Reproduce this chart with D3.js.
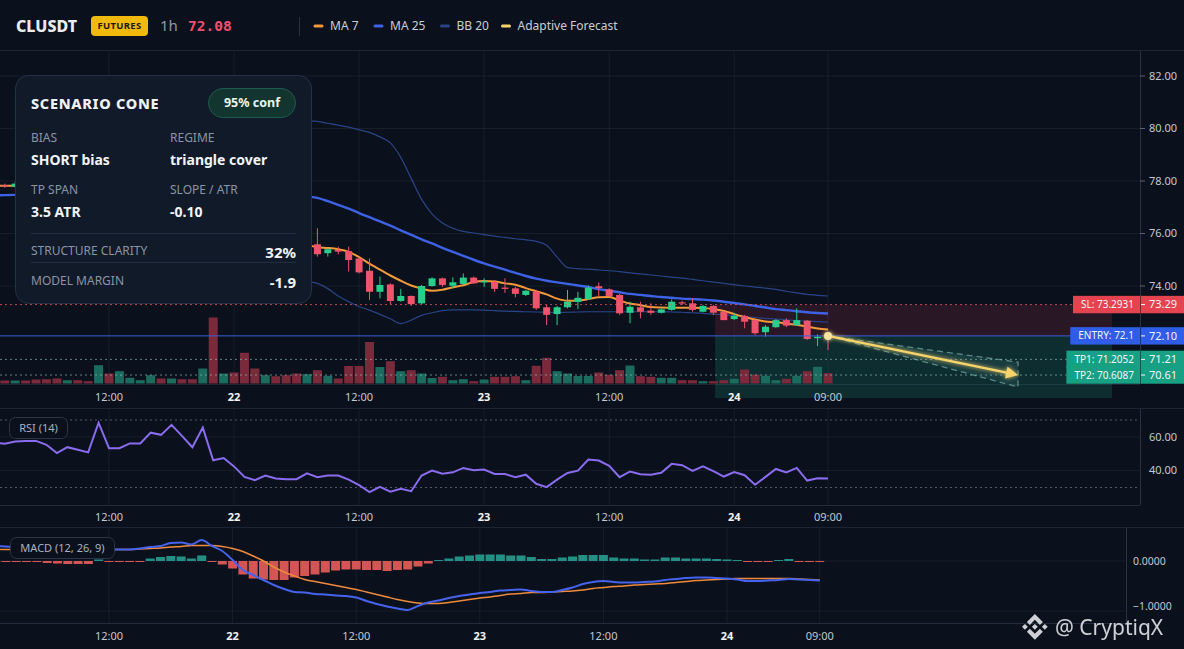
<!DOCTYPE html>
<html><head><meta charset="utf-8">
<script src="https://cdnjs.cloudflare.com/ajax/libs/d3/7.8.5/d3.min.js"></script>
<style>
html,body{margin:0;padding:0;background:#0b111c;overflow:hidden;}
svg{display:block;font-family:"Noto Sans","Open Sans",sans-serif;}
</style></head><body>
<svg id="chart" width="1184" height="649"></svg>
<script>
// ---------------- DATA (hourly candles, 21st 01:00 -> 24th 09:00) ----------------
const timeTickIdx    = [11, 23, 35, 47, 59, 71, 80];
const timeTickLabels = ["12:00", "22", "12:00", "23", "12:00", "24", "09:00"];
const timeTickIsDay  = [false, true, false, true, false, true, false];

const opens = [77.90,77.84,77.79,77.90,77.82,77.70,77.60,77.45,77.55,77.45,
  77.40,78.30,78.05,78.20,78.30,78.40,78.70,78.60,78.90,78.80,
  78.60,79.10,78.10,78.25,77.90,76.80,76.40,76.50,76.30,76.10,
  75.48,75.59,75.25,75.37,75.33,75.05,74.58,73.78,74.06,73.43,
  73.62,73.34,74.00,74.29,74.01,74.08,74.32,74.14,74.16,73.94,
  73.91,73.66,73.78,73.19,72.93,73.19,73.39,73.50,73.99,73.87,
  73.66,72.98,73.19,73.06,72.98,73.09,73.38,73.34,73.02,73.24,
  73.02,72.74,72.86,72.70,72.24,72.43,72.70,72.51,72.68,72.01,72.10];
const highs = [77.97,77.90,77.98,77.95,77.88,77.76,77.66,77.62,77.60,77.52,
  78.45,78.38,78.28,78.36,78.46,78.78,78.76,78.98,78.96,78.86,
  79.22,79.18,78.34,78.30,77.96,76.88,76.62,76.56,76.38,76.16,
  75.75,76.20,75.44,75.50,75.50,75.08,75.05,74.36,74.10,73.89,
  73.64,74.04,74.33,74.32,74.33,74.48,74.36,74.29,74.23,74.29,
  73.97,73.85,73.85,73.28,73.24,73.85,73.78,74.02,74.13,73.91,
  73.70,73.40,73.40,73.34,73.15,73.49,73.44,73.53,73.28,73.28,
  73.06,72.98,72.90,72.73,72.51,72.74,72.77,73.15,72.70,72.16,72.13];
const lows = [77.78,77.74,77.75,77.76,77.64,77.52,77.38,77.40,77.38,77.33,
  77.36,77.95,77.98,78.12,78.24,78.35,78.52,78.55,78.72,78.52,
  78.55,77.95,78.02,77.82,76.65,76.30,76.32,76.22,76.02,75.42,
  75.30,75.12,75.12,75.21,74.55,74.48,73.47,73.53,73.30,73.40,
  73.24,73.31,73.97,73.97,73.91,74.04,74.08,73.97,73.78,73.74,
  73.57,73.62,73.09,72.51,72.51,73.15,73.12,73.47,73.59,73.59,
  72.90,72.58,72.77,72.90,72.96,73.06,73.28,73.02,73.00,72.90,
  72.70,72.70,72.39,72.13,72.07,72.41,72.43,72.48,71.94,71.71,71.56];
const closes = [77.84,77.79,77.90,77.82,77.70,77.60,77.45,77.55,77.45,77.40,
  78.30,78.05,78.20,78.30,78.40,78.70,78.60,78.90,78.80,78.60,
  79.10,78.10,78.25,77.90,76.80,76.40,76.50,76.30,76.10,75.50,
  75.60,75.21,75.40,75.31,74.99,74.52,73.78,74.04,73.43,73.62,
  73.31,74.00,74.29,74.04,74.14,74.32,74.10,74.18,73.89,73.89,
  73.70,73.82,73.15,72.90,73.19,73.40,73.55,73.94,73.92,73.62,
  72.96,73.21,73.02,72.98,73.11,73.40,73.33,73.09,73.24,72.98,
  72.70,72.86,72.64,72.20,72.45,72.70,72.49,72.70,71.98,72.07,72.08];
// volume, thousands of contracts
const volumes = [20,30,30,30,40,43,50,33,33,23,
  183,100,123,57,33,83,50,50,43,43,
  150,660,100,110,307,150,83,73,83,100,
  93,133,77,50,175,175,415,165,223,123,
  133,100,55,67,33,43,23,40,67,67,
  73,33,177,257,123,100,75,75,110,87,
  133,180,73,67,57,57,33,33,23,23,
  33,47,140,90,77,33,47,77,123,167,103];

const ma7 = [77.83,77.82,77.82,77.80,77.78,77.74,77.69,77.65,77.60,77.55,
  77.64,77.71,77.80,77.91,78.02,78.18,78.35,78.45,78.56,78.62,
  78.74,78.70,78.65,78.50,78.20,77.85,77.45,77.05,76.65,76.20,
  75.60,75.48,75.45,75.40,75.30,75.10,74.85,74.62,74.40,74.20,
  74.02,73.90,73.82,73.86,73.95,74.03,74.15,74.19,74.17,74.10,
  74.05,73.92,73.80,73.68,73.52,73.44,73.45,73.50,73.57,73.58,
  73.45,73.33,73.27,73.20,73.18,73.17,73.17,73.17,73.16,73.12,
  73.05,72.93,72.82,72.72,72.65,72.62,72.57,72.52,72.45,72.38,72.34];
const ma25 = [77.45,77.46,77.47,77.48,77.49,77.50,77.51,77.52,77.53,77.54,
  77.58,77.62,77.66,77.70,77.74,77.78,77.82,77.86,77.90,77.93,
  77.96,77.95,77.93,77.88,77.80,77.72,77.65,77.58,77.52,77.46,
  77.41,77.36,77.23,77.09,76.95,76.78,76.62,76.46,76.30,76.12,
  75.95,75.78,75.62,75.45,75.30,75.15,75.00,74.86,74.74,74.62,
  74.50,74.38,74.28,74.20,74.14,74.08,74.02,73.96,73.88,73.82,
  73.76,73.70,73.66,73.62,73.58,73.55,73.52,73.50,73.48,73.45,
  73.40,73.35,73.30,73.24,73.18,73.12,73.08,73.04,73.00,72.97,72.95];
const bbUpper = [null,null,null,null,null,null,null,null,null,null,
  null,null,null,null,null,null,null,null,null,null,
  79.60,79.75,79.85,79.95,80.10,80.20,80.25,80.28,80.30,80.30,
  80.29,80.27,80.20,80.13,80.05,79.95,79.85,79.68,79.45,78.90,
  78.10,77.30,76.75,76.40,76.20,76.08,76.02,75.96,75.90,75.85,
  75.80,75.76,75.70,75.55,75.10,74.70,74.66,74.64,74.61,74.58,
  74.55,74.50,74.46,74.42,74.38,74.34,74.30,74.25,74.20,74.15,
  74.10,74.05,74.00,73.96,73.92,73.87,73.80,73.74,73.68,73.64,73.62];
const bbLower = [null,null,null,null,null,null,null,null,null,null,
  null,null,null,null,null,null,null,null,null,null,
  76.30,76.10,75.90,75.60,75.20,74.90,74.70,74.50,74.35,74.25,
  74.18,74.10,73.90,73.62,73.40,73.22,73.08,72.92,72.75,72.57,
  72.70,72.88,72.98,73.06,73.09,73.09,73.09,73.08,73.06,73.04,
  73.03,73.02,73.01,73.00,72.99,73.00,73.01,73.02,73.02,73.02,
  73.02,73.02,73.02,73.02,73.02,73.01,73.00,72.98,72.96,72.93,
  72.90,72.87,72.84,72.80,72.77,72.74,72.71,72.68,72.66,72.64,72.62];

const rsi = [56.6,56.0,57.2,57.6,57.6,55.3,50.4,53.9,52.4,50.8,
  68.4,53.3,53.3,56.1,56.1,62.5,61.2,67.1,60.6,53.9,
  65.5,46.1,47.5,42.5,36.3,34.3,37.1,35.3,34.9,34.9,
  38.4,36.1,37.1,37.1,34.7,31.4,27.3,30.4,27.5,29.2,
  27.8,37.1,40.0,38.2,39.0,41.6,40.2,40.6,38.0,38.0,
  36.1,37.6,32.2,30.2,34.7,38.6,40.0,46.6,46.0,42.8,
  36.1,39.5,37.9,37.5,38.7,44.0,43.2,39.9,42.6,39.7,
  36.5,39.1,37.3,31.6,36.3,41.0,38.9,41.6,34.1,35.5,35.3];

const macdLine = [0.30,0.29,0.28,0.26,0.25,0.25,0.25,0.24,0.23,0.23,
  0.23,0.23,0.23,0.23,0.25,0.28,0.30,0.36,0.37,0.33,
  0.42,0.30,0.20,0.02,-0.18,-0.28,-0.38,-0.48,-0.56,-0.62,
  -0.63,-0.66,-0.67,-0.69,-0.70,-0.73,-0.80,-0.86,-0.91,-0.95,
  -0.98,-0.90,-0.83,-0.79,-0.74,-0.70,-0.67,-0.64,-0.62,-0.59,
  -0.58,-0.57,-0.60,-0.62,-0.62,-0.58,-0.53,-0.46,-0.42,-0.40,
  -0.42,-0.43,-0.43,-0.42,-0.41,-0.38,-0.36,-0.34,-0.33,-0.33,
  -0.34,-0.35,-0.37,-0.40,-0.40,-0.39,-0.38,-0.36,-0.37,-0.38,-0.39];
const signalLine = [0.23,0.23,0.23,0.23,0.23,0.23,0.23,0.23,0.23,0.23,
  0.23,0.23,0.23,0.23,0.24,0.25,0.26,0.28,0.29,0.31,
  0.31,0.31,0.29,0.25,0.19,0.10,0.00,-0.12,-0.22,-0.30,
  -0.37,-0.41,-0.45,-0.49,-0.53,-0.57,-0.62,-0.67,-0.72,-0.77,
  -0.81,-0.84,-0.85,-0.85,-0.83,-0.80,-0.77,-0.74,-0.72,-0.69,
  -0.66,-0.65,-0.63,-0.63,-0.62,-0.61,-0.60,-0.58,-0.55,-0.53,
  -0.51,-0.50,-0.48,-0.47,-0.46,-0.45,-0.43,-0.41,-0.39,-0.38,
  -0.37,-0.36,-0.35,-0.35,-0.35,-0.35,-0.35,-0.35,-0.36,-0.37,-0.38];
const macdHist = [-0.01,-0.01,-0.01,-0.01,-0.02,-0.04,-0.05,-0.06,-0.06,-0.06,
  0.03,-0.005,-0.005,-0.005,-0.005,0.05,0.08,0.10,0.09,0.05,
  0.11,-0.005,-0.07,-0.15,-0.27,-0.35,-0.37,-0.38,-0.38,-0.33,
  -0.30,-0.27,-0.23,-0.19,-0.17,-0.17,-0.18,-0.18,-0.20,-0.18,
  -0.17,-0.11,-0.05,0.02,0.05,0.09,0.11,0.13,0.13,0.13,
  0.11,0.11,0.08,0.04,0.04,0.07,0.09,0.12,0.12,0.12,
  0.07,0.05,0.05,0.03,0.03,0.07,0.07,0.05,0.05,0.05,
  0.04,0.03,0.02,-0.02,-0.01,-0.005,0.02,0.04,-0.015,-0.015,-0.015];

const priceTicks = [82, 80, 78, 76, 74];
const rsiTicks = [60, 40];
const rsiBands = [70, 30];
const macdTicks = [0, -1];

const levelNames  = ["SL", "ENTRY", "TP1", "TP2"];
const levelPrices = [73.2931, 72.1, 71.2052, 70.6087];
const zoneIdx = [69.16, 107.26];      // trade box, candle-index units
const zoneFloor = 69.73;              // lower edge of profit box
const forecastIdx = [80, 98.24];
const forecastPrice = [72.10, 70.61];
const coneUpper = 71.10, coneLower = 70.15;

const panelRows = [["BIAS","SHORT bias","REGIME","triangle cover"],["TP SPAN","3.5 ATR","SLOPE / ATR","-0.10"]];
const panelStats = [["STRUCTURE CLARITY","32%"],["MODEL MARGIN","-1.9"]];
const legendItems = [["MA 7","#f29a3a"],["MA 25","#3d62e6"],["BB 20","#2a4385"],["Adaptive Forecast","#f7d56b"]];

// ---------------- RENDER ----------------
const C = {bg:'#0b111c', grid:'rgba(255,255,255,0.055)', line:'#1d2535', txt:'#c3c8d1',
  up:'#26cf8c', down:'#f0536c', volUp:'#1c6b5f', volDown:'#7a2a3b',
  ma7:'#f29a3a', ma25:'#3d62e6', bb:'#2a4385', rsi:'#8a6cf0', macd:'#4563ee', signal:'#ee8a3e',
  histUp:'#27a293', histDown:'#f0605c', fc:'#f7d56b'};
const levelColors = ['#e5434f', '#2f5de8', '#17a083', '#17a083'];

const svg = d3.select('#chart');
svg.append('rect').attr('width',1184).attr('height',649).attr('fill',C.bg);
const defs = svg.append('defs');
function clip(id,x,y,w,h){defs.append('clipPath').attr('id',id).append('rect').attr('x',x).attr('y',y).attr('width',w).attr('height',h);}
clip('cMain',0,51,1140,333); clip('cRsi',0,409,1140,96); clip('cMacd',0,528,1126,95);
const glow = defs.append('filter').attr('id','glow').attr('x','-50%').attr('y','-50%').attr('width','200%').attr('height','200%');
glow.append('feGaussianBlur').attr('stdDeviation',2.2).attr('result','b');
const gm = glow.append('feMerge'); gm.append('feMergeNode').attr('in','b'); gm.append('feMergeNode').attr('in','SourceGraphic');

const N = closes.length, idx = d3.range(N);
const xMain = d3.scaleLinear().domain([11,80]).range([109,828]);
const xMacd = d3.scaleLinear().domain([11,80]).range([109,819.7]);
const yP = d3.scaleLinear().domain([70,82]).range([391,76]);
const yV = d3.scaleLinear().domain([0,1000]).range([383.5,283.5]);
const yR = d3.scaleLinear().domain([30,70]).range([487.5,420]);
const yM = d3.scaleLinear().domain([-1,0]).range([611,561]);

// ---- header ----
const hd = svg.append('g');
hd.append('line').attr('x1',0).attr('x2',1184).attr('y1',50.5).attr('y2',50.5).attr('stroke',C.line);
hd.append('text').attr('x',16).attr('y',26).attr('dy','0.35em').attr('fill','#e9edf3').attr('font-size',16).attr('font-weight',800).text('CLUSDT');
hd.append('rect').attr('x',91).attr('y',16).attr('width',57).attr('height',20).attr('rx',4).attr('fill','#f0b90b');
hd.append('text').attr('x',119.5).attr('y',26).attr('dy','0.35em').attr('text-anchor','middle').attr('fill','#1c1a12').attr('font-size',9.5).attr('font-weight',700).attr('letter-spacing',0.3).text('FUTURES');
hd.append('text').attr('x',160).attr('y',26).attr('dy','0.35em').attr('fill','#8f98a8').attr('font-size',15).text('1h');
hd.append('text').attr('x',188).attr('y',26).attr('dy','0.35em').attr('fill','#f04e6e').attr('font-size',14.5).attr('font-weight',700).attr('font-family','"DejaVu Sans Mono",monospace').text(d3.format('.2f')(closes[N-1]));
hd.append('line').attr('x1',299.5).attr('x2',299.5).attr('y1',17).attr('y2',36).attr('stroke','#2a3242');
const legX = [313.5, 373.5, 440, 501];
legendItems.forEach((d,k)=>{
  hd.append('rect').attr('x',legX[k]).attr('y',24.5).attr('width',10).attr('height',3).attr('rx',1.5).attr('fill',d[1]);
  hd.append('text').attr('x',legX[k]+16.5).attr('y',26).attr('dy','0.35em').attr('fill','#c9cdd6').attr('font-size',12).text(d[0]);
});

// ---- main pane ----
const mg = svg.append('g');
priceTicks.forEach(p=>mg.append('line').attr('x1',0).attr('x2',1140).attr('y1',yP(p)).attr('y2',yP(p)).attr('stroke',C.grid));
timeTickIdx.forEach(i=>mg.append('line').attr('x1',xMain(i)).attr('x2',xMain(i)).attr('y1',51).attr('y2',384).attr('stroke',C.grid));
mg.append('line').attr('x1',0).attr('x2',1140).attr('y1',384.5).attr('y2',384.5).attr('stroke',C.line);
mg.append('line').attr('x1',1140.5).attr('x2',1140.5).attr('y1',51).attr('y2',384).attr('stroke','#2a3242');

// trade zones
mg.append('rect').attr('x',xMain(zoneIdx[0])).attr('width',xMain(zoneIdx[1])-xMain(zoneIdx[0]))
  .attr('y',yP(levelPrices[0])).attr('height',yP(levelPrices[1])-yP(levelPrices[0])).attr('fill','rgba(214,58,92,0.15)');
mg.append('rect').attr('x',xMain(zoneIdx[0])).attr('width',xMain(zoneIdx[1])-xMain(zoneIdx[0]))
  .attr('y',yP(levelPrices[1])).attr('height',yP(zoneFloor)-yP(levelPrices[1])).attr('fill','rgba(26,158,134,0.2)');

const pc = mg.append('g').attr('clip-path','url(#cMain)');
// volume
pc.selectAll('rect.v').data(idx).join('rect').attr('class','v')
  .attr('x',i=>xMain(i)-4.5).attr('width',9).attr('y',i=>yV(volumes[i])).attr('height',i=>yV(0)-yV(volumes[i]))
  .attr('fill',i=>closes[i]>=opens[i]?C.volUp:C.volDown);
// lines
const lineMain = arr => d3.line().defined(i=>arr[i]!=null).x(i=>xMain(i)).y(i=>yP(arr[i])).curve(d3.curveMonotoneX)(idx);
pc.append('path').attr('d',lineMain(bbUpper)).attr('fill','none').attr('stroke',C.bb).attr('stroke-width',1.2);
pc.append('path').attr('d',lineMain(bbLower)).attr('fill','none').attr('stroke',C.bb).attr('stroke-width',1.2);
pc.append('path').attr('d',lineMain(ma25)).attr('fill','none').attr('stroke',C.ma25).attr('stroke-width',2.4);
pc.append('path').attr('d',lineMain(ma7)).attr('fill','none').attr('stroke',C.ma7).attr('stroke-width',2);
// candles
const cg = pc.selectAll('g.c').data(idx).join('g').attr('class','c');
cg.append('line').attr('x1',i=>xMain(i)).attr('x2',i=>xMain(i)).attr('y1',i=>yP(highs[i])).attr('y2',i=>yP(lows[i]))
  .attr('stroke',i=>closes[i]>=opens[i]?C.up:C.down).attr('stroke-width',1);
cg.append('rect').attr('x',i=>xMain(i)-3.5).attr('width',7)
  .attr('y',i=>yP(Math.max(opens[i],closes[i])))
  .attr('height',i=>Math.max(1.2,Math.abs(yP(opens[i])-yP(closes[i]))))
  .attr('fill',i=>closes[i]>=opens[i]?C.up:C.down);

// level lines
const lvlStyle = [{c:'rgba(239,83,95,0.75)',d:'2,3'},{c:'#3a5fe0',d:null},{c:'rgba(160,205,195,0.6)',d:'2,3'},{c:'rgba(160,205,195,0.6)',d:'2,3'}];
levelPrices.forEach((p,k)=>{
  const l = mg.append('line').attr('x1',0).attr('x2',1140).attr('y1',yP(p)).attr('y2',yP(p)).attr('stroke',lvlStyle[k].c).attr('stroke-width',1);
  if(lvlStyle[k].d) l.attr('stroke-dasharray',lvlStyle[k].d);
});

// forecast cone + arrow
const fx0 = xMain(forecastIdx[0]), fy0 = yP(forecastPrice[0]);
const fx1 = xMain(forecastIdx[1]), fy1 = yP(forecastPrice[1]);
mg.append('path').attr('d',d3.line()([[fx0,fy0],[fx1,yP(coneUpper)],[fx1,yP(coneLower)]])+'Z')
  .attr('fill','rgba(140,200,190,0.10)').attr('stroke','rgba(150,200,195,0.55)').attr('stroke-width',1.3).attr('stroke-dasharray','6,4');
const ang = Math.atan2(fy1-fy0, fx1-fx0);
const fg = mg.append('g').attr('filter','url(#glow)');
fg.append('line').attr('x1',fx0).attr('y1',fy0).attr('x2',fx1-8*Math.cos(ang)).attr('y2',fy1-8*Math.sin(ang))
  .attr('stroke',C.fc).attr('stroke-width',2.4);
fg.append('path').attr('d','M0,0 L-12,-6 L-12,6 Z').attr('fill',C.fc)
  .attr('transform',`translate(${fx1},${fy1}) rotate(${ang*180/Math.PI})`);
fg.append('circle').attr('cx',fx0).attr('cy',fy0).attr('r',4).attr('fill','#f9e3a0');

// price axis
priceTicks.forEach(p=>{
  mg.append('line').attr('x1',1140).attr('x2',1145).attr('y1',yP(p)).attr('y2',yP(p)).attr('stroke','#59627a');
  mg.append('text').attr('x',1149).attr('y',yP(p)).attr('dy','0.35em').attr('fill',C.txt).attr('font-size',11).text(d3.format('.2f')(p));
});
// level labels
levelPrices.forEach((p,k)=>{
  const y = yP(p);
  const g = mg.append('g');
  const r = g.append('rect').attr('fill',levelColors[k]);
  const t = g.append('text').attr('x',1134).attr('y',y).attr('dy','0.35em').attr('text-anchor','end').attr('fill','#f4f6fa').attr('font-size',10)
    .text(levelNames[k]+': '+(+p.toFixed(4)));
  const w = t.node().getComputedTextLength();
  r.attr('x',1134-w-8).attr('y',y-8.7).attr('width',1184-(1134-w-8)).attr('height',17.4);
  g.append('line').attr('x1',1140.5).attr('x2',1140.5).attr('y1',y-8.7).attr('y2',y+8.7).attr('stroke','rgba(10,15,25,0.5)');
  g.append('line').attr('x1',1141).attr('x2',1145).attr('y1',y).attr('y2',y).attr('stroke','#f4f6fa');
  g.append('text').attr('x',1149).attr('y',y).attr('dy','0.35em').attr('fill','#f4f6fa').attr('font-size',11).text(d3.format('.2f')(p));
});
// time labels main
function timeLabels(g, xs, y){
  timeTickIdx.forEach((i,k)=>{
    g.append('text').attr('x',xs(i)).attr('y',y).attr('dy','0.35em').attr('text-anchor','middle')
      .attr('fill',timeTickIsDay[k]?'#f1f3f6':C.txt).attr('font-weight',timeTickIsDay[k]?700:400).attr('font-size',11)
      .text(timeTickLabels[k]);
  });
}
timeLabels(mg, xMain, 397);

// scenario panel
const pg = svg.append('g');
pg.append('rect').attr('x',15.5).attr('y',75.5).attr('width',296).attr('height',228).attr('rx',13)
  .attr('fill','#111a29').attr('stroke','#273145');
pg.append('text').attr('x',31).attr('y',104).attr('dy','0.35em').attr('fill','#eef1f5').attr('font-size',14.5).attr('font-weight',800).attr('letter-spacing',0.7).text('SCENARIO CONE');
pg.append('rect').attr('x',208.5).attr('y',88.5).attr('width',87).attr('height',29).attr('rx',14.5).attr('fill','#12352f').attr('stroke','#1f5b4f');
pg.append('text').attr('x',252).attr('y',103).attr('dy','0.35em').attr('text-anchor','middle').attr('fill','#e8f5ef').attr('font-size',12.5).attr('font-weight',700).text('95% conf');
const rowY = [[138,160],[190,212]];
panelRows.forEach((r,k)=>{
  pg.append('text').attr('x',31).attr('y',rowY[k][0]).attr('dy','0.35em').attr('fill','#8b94a6').attr('font-size',12).text(r[0]);
  pg.append('text').attr('x',31).attr('y',rowY[k][1]).attr('dy','0.35em').attr('fill','#f2f4f7').attr('font-size',14).attr('font-weight',700).text(r[1]);
  pg.append('text').attr('x',170).attr('y',rowY[k][0]).attr('dy','0.35em').attr('fill','#8b94a6').attr('font-size',12).text(r[2]);
  pg.append('text').attr('x',170).attr('y',rowY[k][1]).attr('dy','0.35em').attr('fill','#f2f4f7').attr('font-size',14).attr('font-weight',700).text(r[3]);
});
[233.5,262.5].forEach(y=>pg.append('line').attr('x1',31).attr('x2',296).attr('y1',y).attr('y2',y).attr('stroke','#242d3f'));
const statY = [251, 281];
panelStats.forEach((s,k)=>{
  pg.append('text').attr('x',31).attr('y',statY[k]).attr('dy','0.35em').attr('fill','#8b94a6').attr('font-size',12).text(s[0]);
  pg.append('text').attr('x',296).attr('y',statY[k]+2).attr('dy','0.35em').attr('text-anchor','end').attr('fill','#f2f4f7').attr('font-size',15).attr('font-weight',700).text(s[1]);
});

// ---- RSI pane ----
const rg = svg.append('g');
rg.append('line').attr('x1',0).attr('x2',1184).attr('y1',408.5).attr('y2',408.5).attr('stroke',C.line);
rsiTicks.forEach(v=>rg.append('line').attr('x1',0).attr('x2',1140).attr('y1',yR(v)).attr('y2',yR(v)).attr('stroke',C.grid));
timeTickIdx.forEach(i=>rg.append('line').attr('x1',xMain(i)).attr('x2',xMain(i)).attr('y1',409).attr('y2',505).attr('stroke',C.grid));
rsiBands.forEach(v=>rg.append('line').attr('x1',0).attr('x2',1140).attr('y1',yR(v)).attr('y2',yR(v)).attr('stroke','rgba(170,178,192,0.45)').attr('stroke-dasharray','2,3'));
rg.append('line').attr('x1',0).attr('x2',1140).attr('y1',505.5).attr('y2',505.5).attr('stroke','#232c3c');
rg.append('line').attr('x1',1140.5).attr('x2',1140.5).attr('y1',409).attr('y2',505).attr('stroke','#2a3242');
rg.append('g').attr('clip-path','url(#cRsi)').append('path')
  .attr('d',d3.line().x(i=>xMain(i)).y(i=>yR(rsi[i]))(idx)).attr('fill','none').attr('stroke',C.rsi).attr('stroke-width',2);
rsiTicks.forEach(v=>rg.append('text').attr('x',1149).attr('y',yR(v)).attr('dy','0.35em').attr('fill',C.txt).attr('font-size',11).text(d3.format('.2f')(v)));
rg.append('rect').attr('x',9.5).attr('y',417.5).attr('width',58).attr('height',21).attr('rx',6).attr('fill',C.bg).attr('stroke','#2c3545');
rg.append('text').attr('x',38.5).attr('y',428).attr('dy','0.35em').attr('text-anchor','middle').attr('fill','#aab2bf').attr('font-size',11).text('RSI (14)');
timeLabels(rg, xMain, 517);

// ---- MACD pane ----
const kg = svg.append('g');
kg.append('line').attr('x1',0).attr('x2',1184).attr('y1',527.5).attr('y2',527.5).attr('stroke',C.line);
macdTicks.forEach(v=>kg.append('line').attr('x1',0).attr('x2',1126).attr('y1',yM(v)).attr('y2',yM(v)).attr('stroke',C.grid));
timeTickIdx.forEach(i=>kg.append('line').attr('x1',xMacd(i)).attr('x2',xMacd(i)).attr('y1',528).attr('y2',623).attr('stroke',C.grid));
kg.append('line').attr('x1',0).attr('x2',1126).attr('y1',623.5).attr('y2',623.5).attr('stroke','#232c3c');
kg.append('line').attr('x1',1126.5).attr('x2',1126.5).attr('y1',528).attr('y2',623).attr('stroke','#2a3242');
const kc = kg.append('g').attr('clip-path','url(#cMacd)');
kc.selectAll('rect.h').data(idx).join('rect').attr('class','h')
  .attr('x',i=>xMacd(i)-4.5).attr('width',9)
  .attr('y',i=>Math.min(yM(0),yM(macdHist[i]))).attr('height',i=>Math.max(1,Math.abs(yM(macdHist[i])-yM(0))))
  .attr('fill',i=>macdHist[i]>=0?C.histUp:C.histDown).attr('opacity',0.88);
const lineM = arr => d3.line().x(i=>xMacd(i)).y(i=>yM(arr[i])).curve(d3.curveMonotoneX)(idx);
kc.append('path').attr('d',lineM(signalLine)).attr('fill','none').attr('stroke',C.signal).attr('stroke-width',1.5);
kc.append('path').attr('d',lineM(macdLine)).attr('fill','none').attr('stroke',C.macd).attr('stroke-width',2);
macdTicks.forEach(v=>kg.append('text').attr('x',1133).attr('y',yM(v)-(v<0?5:0)).attr('dy','0.35em').attr('fill',C.txt).attr('font-size',10.5).text(d3.format('.4f')(v)));
kg.append('rect').attr('x',10.5).attr('y',537.5).attr('width',104).attr('height',21).attr('rx',6).attr('fill',C.bg).attr('stroke','#2c3545');
kg.append('text').attr('x',62.5).attr('y',548).attr('dy','0.35em').attr('text-anchor','middle').attr('fill','#aab2bf').attr('font-size',11).text('MACD (12, 26, 9)');
timeLabels(kg, xMacd, 636);

// ---- watermark ----
const wm = svg.append('g').attr('opacity',0.9);
wm.append('path').attr('transform','translate(1022,614) scale(0.205)').attr('fill','#e3e6eb')
  .attr('d','M38.171 53.203L62.759 28.616l24.6 24.6 14.306-14.307L62.759 0 23.864 38.896zM0 62.759l14.307-14.307 14.306 14.307-14.307 14.306zM38.171 72.315l24.588 24.588 24.6-24.6 14.307 14.3-38.907 38.908-38.895-38.895zM96.905 62.765l14.307-14.307 14.306 14.307-14.306 14.306zM77.271 62.752l-14.512 14.531-14.531-14.531 14.531-14.53z');
wm.append('text').attr('x',1055).attr('y',628).attr('dy','0.35em').attr('fill','#e3e6eb').attr('font-size',21).text('@ CryptiqX');
</script></body></html>
